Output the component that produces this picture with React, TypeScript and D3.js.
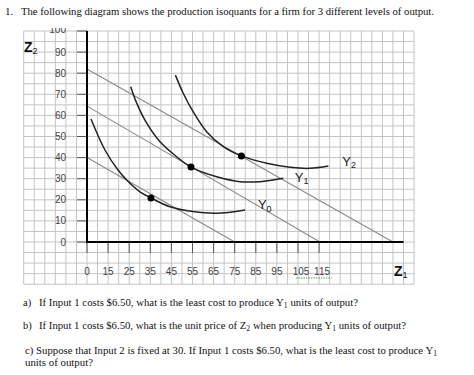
import React from "react";
import * as d3 from "d3";

const xTickValues = [0, 10, 20, 30, 40, 50, 60, 70, 80, 90, 100, 110];
const xTickLabels = ["0", "15", "25", "35", "45", "55", "65", "75", "85", "95", "105", "115"];
const yTickValues = [0, 10, 20, 30, 40, 50, 60, 70, 80, 90, 100];

const isoY0 = [
  [1.9, 58.3], [8.5, 43.6], [14.7, 34.1], [18.8, 29.4], [25.1, 23.8], [30.3, 20.9],
  [39.3, 16.7], [50.2, 14.4], [61.4, 13.6], [74.9, 15.2],
];
const isoY1 = [
  [20.7, 73.6], [23.6, 65.7], [28.3, 56.3], [34.6, 47.5], [42.5, 40.4], [49.3, 35.5],
  [61.5, 30.9], [72.5, 28.6], [82, 28.6], [93, 30.2],
];
const isoY2 = [
  [41.9, 79.1], [45.6, 70.5], [49.8, 62.6], [56.7, 52.3], [64.6, 45.2], [73.2, 40.8],
  [85.2, 37.3], [96.2, 35.4], [105.7, 34.9], [114.4, 36],
];
const isoLabels = [
  { main: "Y", sub: "0", x: 81, y: 17.5 },
  { main: "Y", sub: "1", x: 98.5, y: 30.5 },
  { main: "Y", sub: "2", x: 121, y: 38 },
];
const isocost = [
  [[0, 40], [70, 0]],
  [[0, 64.4], [110.4, 0]],
  [[0, 82], [145, 0]],
];
const tangents = [[30.3, 20.9], [49.3, 35.5], [73.2, 40.8]];

export default function App() {
  const unit = 2.11;
  const x = d3.scaleLinear().domain([0, 100]).range([87, 87 + 100 * unit]);
  const y = d3.scaleLinear().domain([0, 100]).range([242, 242 - 100 * unit]);
  const line = d3
    .line<number[]>()
    .x((d) => x(d[0]))
    .y((d) => y(d[1]))
    .curve(d3.curveCatmullRom.alpha(0.5));
  const straight = d3.line<number[]>().x((d) => x(d[0])).y((d) => y(d[1]));

  const gridX = d3.range(-30, 156, 5);
  const gridY = d3.range(-20, 101, 5);
  const gx0 = x(-30), gx1 = x(155), gy0 = y(100), gy1 = y(-20);

  const serif = "'Liberation Serif', 'Times New Roman', serif";
  const sans = "Arial, 'Liberation Sans', sans-serif";
  const sub = (s: string, size: number) => (
    <tspan fontSize={size} dy={2.5}>{s}</tspan>
  );

  return (
    <svg width={474} height={375} style={{ position: "absolute", left: 0, top: 0 }}>
      <rect width={474} height={375} fill="#fff" />
      <defs>
        <clipPath id="clip100">
          <rect x={0} y={28} width={100} height={10} />
        </clipPath>
      </defs>
      <text x={5} y={15} fontFamily={serif} fontSize={11} fill="#111">1.</text>
      <text x={21} y={15} fontFamily={serif} fontSize={11} fill="#111" textLength={413} lengthAdjust="spacingAndGlyphs">
        The following diagram shows the production isoquants for a firm for 3 different levels of output.
      </text>

      {/* grid */}
      <g stroke="#c4c4c4" strokeWidth={1}>
        {gridX.map((v) => (
          <line key={"gx" + v} x1={x(v)} x2={x(v)} y1={gy0} y2={gy1} />
        ))}
        {gridY.map((v) => (
          <line key={"gy" + v} x1={gx0} x2={gx1} y1={y(v)} y2={y(v)} />
        ))}
      </g>

      {/* ticks */}
      <g stroke="#555" strokeWidth={1}>
        {yTickValues.map((v) => (
          <line key={"yt" + v} x1={x(0) - 10} x2={x(0)} y1={y(v)} y2={y(v)} />
        ))}
        {xTickValues.map((v) => (
          <line key={"xt" + v} x1={x(v)} x2={x(v)} y1={y(0)} y2={y(0) + 11} />
        ))}
      </g>
      <g fontFamily={sans} fontSize={10} fill="#444" textAnchor="end">
        {yTickValues.map((v) =>
          v === 100 ? (
            <text key={"yl" + v} x={66} y={y(v) + 1.5} clipPath="url(#clip100)">{v}</text>
          ) : (
            <text key={"yl" + v} x={66} y={y(v) + 3.5}>{v}</text>
          )
        )}
      </g>
      <g fontFamily={sans} fontSize={10} fill="#444" textAnchor="middle">
        {xTickValues.map((v, i) => (
          <text key={"xl" + v} x={x(v) + (i >= 10 ? 3 : 0)} y={275}>{xTickLabels[i]}</text>
        ))}
      </g>
      <line x1={x(99)} x2={x(116)} y1={278} y2={278} stroke="#5a9a5a" strokeWidth={1} strokeDasharray="1.5,1" />

      {/* isocost lines */}
      <g fill="none" stroke="#8a8a8a" strokeWidth={1.1}>
        {isocost.map((l, i) => (
          <path key={"ic" + i} d={straight(l) || ""} />
        ))}
      </g>

      {/* axes */}
      <line x1={x(0)} x2={x(0)} y1={y(100)} y2={y(0) + 1} stroke="#000" strokeWidth={2} />
      <line x1={x(0)} x2={x(150)} y1={y(0)} y2={y(0)} stroke="#000" strokeWidth={2} />

      {/* isoquants */}
      <g fill="none" stroke="#222" strokeWidth={1.5}>
        <path d={line(isoY0) || ""} />
        <path d={line(isoY1) || ""} />
        <path d={line(isoY2) || ""} />
      </g>
      {tangents.map((p, i) => (
        <circle key={"t" + i} cx={x(p[0])} cy={y(p[1])} r={3.5} fill="#000" />
      ))}
      <g fontFamily={sans} fontSize={13} fill="#222">
        {isoLabels.map((l) => (
          <text key={l.sub} x={x(l.x)} y={y(l.y) + 4}>
            {l.main}
            {sub(l.sub, 9)}
          </text>
        ))}
      </g>

      {/* axis names */}
      <text x={24} y={52} fontFamily={sans} fontSize={14} fontWeight="bold" fill="#111">
        Z<tspan fontSize={9} fontWeight="normal" dy={2}>2</tspan>
      </text>
      <text x={394} y={276} fontFamily={sans} fontSize={14} fontWeight="bold" fill="#111">
        Z<tspan fontSize={9} fontWeight="normal" dy={2}>1</tspan>
      </text>

      {/* questions */}
      <g fontFamily={serif} fontSize={10.5} fill="#111">
        <text x={23} y={306}>a)</text>
        <text x={39} y={306} textLength={319} lengthAdjust="spacingAndGlyphs">
          If Input 1 costs $6.50, what is the least cost to produce Y<tspan fontSize={7.5} dy={1.5}>1</tspan><tspan dy={-1.5}> units of output?</tspan>
        </text>
        <text x={23} y={329}>b)</text>
        <text x={39} y={329} textLength={367} lengthAdjust="spacingAndGlyphs">
          If Input 1 costs $6.50, what is the unit price of Z<tspan fontSize={7.5} dy={1.5}>2</tspan><tspan dy={-1.5}> when producing Y</tspan><tspan fontSize={7.5} dy={1.5}>1</tspan><tspan dy={-1.5}> units of output?</tspan>
        </text>
        <text x={25} y={354} textLength={412} lengthAdjust="spacingAndGlyphs">
          c) Suppose that Input 2 is fixed at 30. If Input 1 costs $6.50, what is the least cost to produce Y<tspan fontSize={7.5} dy={1.5}>1</tspan>
        </text>
        <text x={25} y={366} textLength={68} lengthAdjust="spacingAndGlyphs">units of output?</text>
      </g>
    </svg>
  );
}
